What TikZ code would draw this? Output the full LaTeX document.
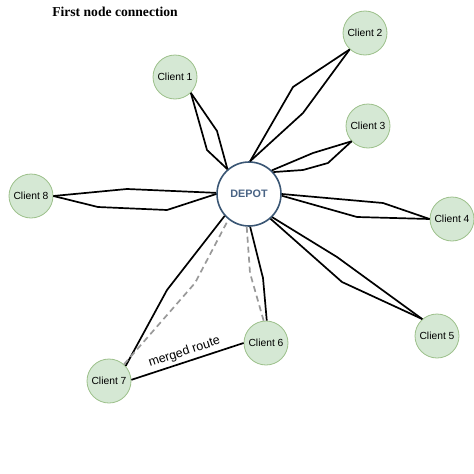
\documentclass[tikz,border=0pt]{standalone}
\usepackage{fontspec}
\setmainfont{Liberation Sans}
\newfontfamily\titlefont{Liberation Serif}
\usepackage{tikz}
\usetikzlibrary{shapes,arrows.meta}
\definecolor{clientfill}{HTML}{D5E8D4}
\definecolor{clientline}{HTML}{9CC08A}
\definecolor{depotline}{HTML}{3A5674}
\definecolor{depottext}{HTML}{4A6485}
\tikzstyle{client} = [circle, draw=clientline, fill=clientfill, line width=0.8pt,
    minimum size=44pt, inner sep=0pt, font=\fontsize{10.3}{12}\selectfont]
\tikzstyle{depot} = [circle, draw=depotline, fill=white, line width=1.6pt,
    minimum size=64pt, inner sep=0pt, text=depottext, font=\fontsize{10.8}{12}\selectfont\bfseries]
\tikzstyle{route} = [draw, line width=1.7pt, line join=round]
\tikzstyle{merged} = [draw, line width=1.7pt, gray!80, dash pattern=on 6pt off 4pt]

\begin{document}
\begin{tikzpicture}[x=1pt, y=-1pt, auto]
  \useasboundingbox (0,0) rectangle (474,474);
   % Place nodes
    \node [font=\titlefont\bfseries\fontsize{13.6}{15}\selectfont] (title) at (115,12) {First node connection};
    \node [depot] (depot) at (249,194) {DEPOT};
    \node [client] (c1) at (175,77) {Client 1};
    \node [client] (c2) at (365,33) {Client 2};
    \node [client] (c3) at (368,126) {Client 3};
    \node [client] (c4) at (452,219) {Client 4};
    \node [client] (c5) at (437,336) {Client 5};
    \node [client] (c6) at (266,343) {Client 6};
    \node [client] (c7) at (109,381) {Client 7};
    \node [client] (c8) at (31,196) {Client 8};
   % Draw edges
    \path [route] (c1.-45) -- (217,131) -- (depot.131);
    \path [route] (c1.-45) -- (207,150) -- (depot.131);
    \path [route] (c2.227) -- (293,87) -- (depot.88);
    \path [route] (c2.227) -- (303,113) -- (depot.88);
    \path [route] (c3.223) -- (313,153) -- (depot.46);
    \path [route] (c3.223) -- (328,163) -- (303,170) -- (depot.42);
    \path [route] (c4.180) -- (383,203) -- (depot.0);
    \path [route] (c4.180) -- (357,217) -- (depot.-3);
    \path [route] (c5.131) -- (337,257) -- (depot.-45);
    \path [route] (c5.131) -- (342,282) -- (depot.-49);
    \path [route] (c6.88) -- (263,278) -- (depot.-88);
    \path [merged] (c6.96) -- (250,273) -- (depot.-94);
    \path [route] (c7.42) -- (167,290) -- (depot.222);
    \path [merged] (c7.48) -- (195,283) -- (depot.231);
    \path [route] (c8.0) -- (127,189) -- (depot.178);
    \path [route] (c8.0) -- (98,207) -- (167,210) -- (depot.180);
    \path [route] (c7.3) -- (c6.180)
    node [midway, sloped, above, inner sep=3pt, font=\fontsize{12.5}{14}\selectfont] {merged route};
\end{tikzpicture}
\end{document}
